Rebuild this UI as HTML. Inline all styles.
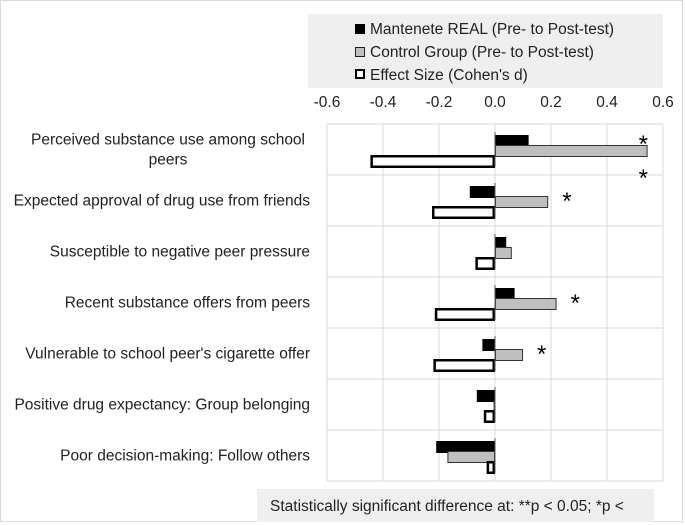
<!DOCTYPE html>
<html><head><meta charset="utf-8"><style>
body{margin:0;background:#fff;}
svg{display:block;font-family:"Liberation Sans",sans-serif;}
</style></head><body>
<svg id="c" width="685" height="525">
<rect x="0.5" y="0.5" width="682" height="521" fill="#fff" stroke="#d9d9d9"/>
<g>
<rect x="308" y="14" width="355" height="74" fill="#efefef"/>
<g><rect x="355" y="24" width="10" height="10" fill="#000"/><text x="370" y="34" font-size="15.5" fill="#222">Mantenete REAL (Pre- to Post-test)</text></g>
<g><rect x="355.5" y="47.5" width="9" height="9" fill="#bfbfbf" stroke="#222"/><text x="370" y="57" font-size="15.5" fill="#222">Control Group (Pre- to Post-test)</text></g>
<g><rect x="356" y="70" width="8" height="8" fill="#fff" stroke="#000" stroke-width="2"/><text x="370" y="80" font-size="15.5" fill="#222">Effect Size (Cohen's d)</text></g>
</g>
<g id="grid"></g><g id="bars"></g><g id="labels"></g>
<g>
<rect x="257" y="489" width="397" height="33" fill="#efefef"/>
<text x="270" y="511" font-size="15.5" fill="#222">Statistically significant difference at: **p &lt; 0.05; *p &lt;</text>
</g>
</svg>
<script>
const categories=["Perceived substance use among school peers","Expected approval of drug use from friends","Susceptible to negative peer pressure","Recent substance offers from peers","Vulnerable to school peer's cigarette offer","Positive drug expectancy: Group belonging","Poor decision-making: Follow others"];
const mantenete=[0.12,-0.09,0.04,0.07,-0.045,-0.065,-0.21];
const control=[0.545,0.19,0.06,0.22,0.10,-0.005,-0.17];
const effect=[-0.445,-0.225,-0.07,-0.215,-0.22,-0.04,-0.03];
const ticks=[-0.6,-0.4,-0.2,0,0.2,0.4,0.6];
const tickLabels=["-0.6","-0.4","-0.2","0.0","0.2","0.4","0.6"];
const stars=[["*","*"],["*",""],["",""],["*",""],["*",""],["",""],["",""]];
const NS="http://www.w3.org/2000/svg";
const X0=327,X1=663,Y0=124,Y1=481;
const x=v=>X0+(v+0.6)/1.2*(X1-X0);
const rowH=(Y1-Y0)/categories.length;
const y=i=>Y0+i*rowH;
function mk(p,t,a){const e=document.createElementNS(NS,t);for(const k in a)e.setAttribute(k,a[k]);p.appendChild(e);return e;}
const G=document.getElementById('grid'),B=document.getElementById('bars'),L=document.getElementById('labels');
ticks.forEach((t,i)=>{
 const l=mk(G,'line',{x1:x(t),x2:x(t),y1:Y0,y2:Y1,stroke:'#d9d9d9'});
 
 
 const tx=mk(L,'text',{x:x(t),y:107,'font-size':15.5,'text-anchor':'middle',fill:'#222'});
 tx.textContent=tickLabels[i];
 
 
});
for(let i=0;i<=categories.length;i++){
 const l=mk(G,'line',{x1:X0,x2:X1,y1:y(i),y2:y(i),stroke:'#d9d9d9'});
 
 
}
function bar(v,top,h,fill,stroke,sw,name){
 const a=Math.min(x(0),x(v)),w=Math.abs(x(v)-x(0));
 const r=mk(B,'rect',{x:a+sw/2,y:top+sw/2,width:Math.max(w-sw,0.5),height:h-sw,fill:fill,stroke:stroke,'stroke-width':sw});
 
 
}
categories.forEach((c,i)=>{
 const t=y(i)+11;
 bar(mantenete[i],t,12,'#000','#000',0,'bar-mantenete');
 bar(control[i],t+10,12,'#bfbfbf','#333',1,'bar-control');
 bar(effect[i],t+20,13,'#fff','#000',2.5,'bar-effect-size');
 const ax=mk(B,'line',{x1:x(0),x2:x(0),y1:y(i)+8,y2:y(i+1)-8,stroke:'#555'});
 
 
 if(stars[i][0]){const s=mk(L,'text',{x:Math.max(x(control[i]),x(mantenete[i]))+(i==0?-9:14),y:t+(i==0?17:23),'font-size':24,fill:'#000'});s.textContent='*';
  
  }
 if(stars[i][1]){const s=mk(L,'text',{x:x(control[i])-9,y:t+51,'font-size':24,fill:'#000'});s.textContent='*';
  
  }
 const cy=y(i)+rowH/2;
 if(i==0){
  [["Perceived substance use among school",cy-5],["peers",cy+15]].forEach(([s,yy])=>{
   const tx=mk(L,'text',{x:168,y:yy,'font-size':15.5,'text-anchor':'middle',fill:'#222'});
   tx.textContent=s;
   
   });
 }else{
  const tx=mk(L,'text',{x:310,y:cy+5,'font-size':15.5,'text-anchor':'end',fill:'#222'});
  tx.textContent=c;
  
  
 }
});
</script>
</body></html>
